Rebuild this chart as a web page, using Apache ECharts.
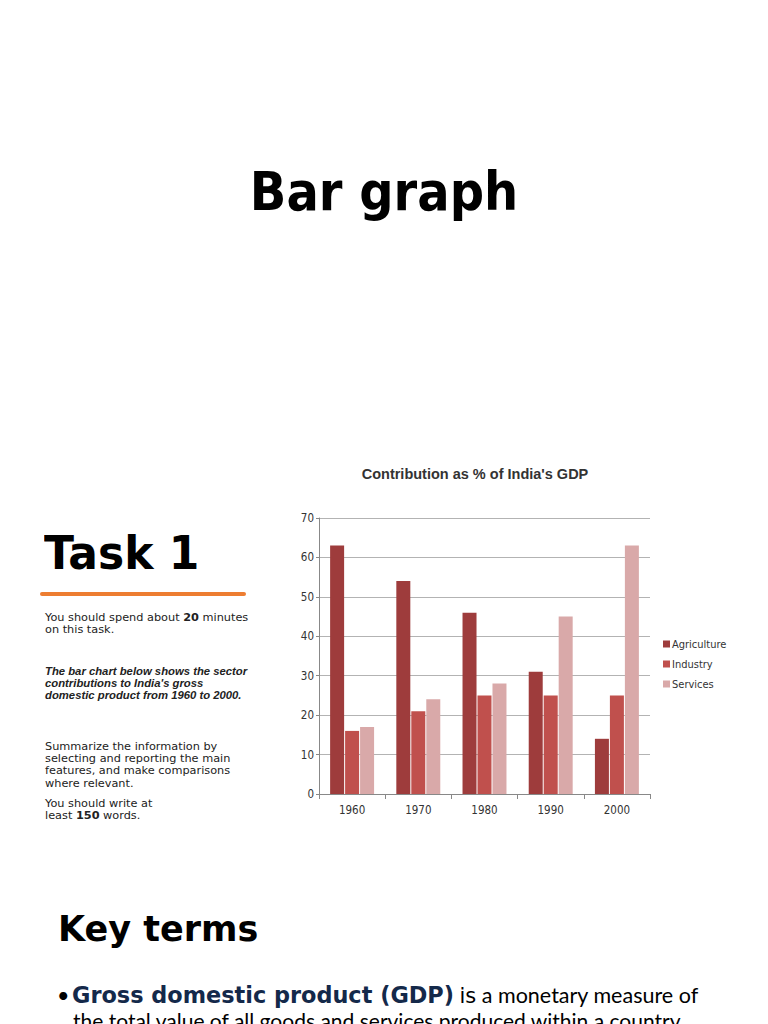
<!DOCTYPE html>
<html>
<head>
<meta charset="utf-8">
<script src="https://cdn.jsdelivr.net/npm/echarts@6/dist/echarts.min.js"></script>
<style>
  html, body { margin: 0; padding: 0; background: #ffffff; }
  #page { position: relative; width: 768px; height: 1024px; overflow: hidden; background: #fff; }
  .abs { position: absolute; white-space: nowrap; }
  #main-title { left: 0; width: 768px; top: 163px; text-align: center; font-family: "DejaVu Sans", sans-serif; font-weight: bold; font-size: 48px; color: #000; transform: scaleY(1.12); }
  #task { left: 44px; top: 526px; font-family: "DejaVu Sans", sans-serif; font-weight: bold; font-size: 44px; color: #000; transform-origin: left top; transform: scaleY(1.05); }
  #rule { left: 40px; top: 592px; width: 206px; height: 4px; background: #ed7d31; border-radius: 2px; }
  .small { left: 45px; font-family: "DejaVu Sans", sans-serif; font-size: 11.3px; line-height: 12.2px; color: #222; }
  .ital { left: 45px; font-family: "Liberation Sans", Arial, sans-serif; font-size: 11.3px; line-height: 12px; font-weight: bold; font-style: italic; color: #222; }
  #key { left: 58px; top: 909px; font-family: "DejaVu Sans", sans-serif; font-weight: bold; font-size: 35px; color: #000; }
  .bl { position: absolute; white-space: nowrap; font-family: Lato, sans-serif; font-size: 21.5px; color: #000; }
  .bl .b { color: #14294a; font-family: "DejaVu Sans", sans-serif; font-weight: bold; font-size: 22.4px; }
  .bl .is { font-family: "DejaVu Sans", sans-serif; font-size: 21px; }
  #chart { position: absolute; left: 290px; top: 455px; width: 450px; height: 380px; }
</style>
</head>
<body>
<div id="page">
  <div id="main-title" class="abs">Bar graph</div>
  <div id="task" class="abs">Task 1</div>
  <div id="rule" class="abs"></div>
  <div class="abs small" style="top:612px;">You should spend about <b>20</b> minutes<br>on this task.</div>
  <div class="abs ital" style="top:665px;">The bar chart below shows the sector<br>contributions to India's gross<br>domestic product from 1960 to 2000.</div>
  <div class="abs small" style="top:741px;">Summarize the information by<br>selecting and reporting the main<br>features, and make comparisons<br>where relevant.</div>
  <div class="abs small" style="top:798px;">You should write at<br>least <b>150</b> words.</div>
  <div id="key" class="abs">Key terms</div>
  <div class="bl" style="left:57px; top:982px;">•</div>
  <div class="bl" style="left:72px; top:982px;"><span class="b">Gross domestic product (GDP)</span> <span class="is">is</span> a monetary measure of</div>
  <div class="bl" style="left:73px; top:1008px; font-size:21px;">the total value of all goods and services produced within a country</div>
  <div id="chart"></div>
</div>
<script>
const chartTitle = "Contribution as % of India's GDP";
const categories = ['1960', '1970', '1980', '1990', '2000'];
const seriesNames = ['Agriculture', 'Industry', 'Services'];
const agriculture = [63, 54, 46, 31, 14];
const industry = [16, 21, 25, 25, 25];
const services = [17, 24, 28, 45, 63];
const yTicks = [0, 10, 20, 30, 40, 50, 60, 70];

const colors = ['#9e3c3c', '#c0504d', '#d9a9a9'];
const values = [agriculture, industry, services];
const labelFont = '"DejaVu Sans Condensed", "DejaVu Sans", sans-serif';

const chart = echarts.init(document.getElementById('chart'), null, { renderer: 'svg' });
chart.setOption({
  animation: false,
  backgroundColor: 'transparent',
  title: {
    text: chartTitle,
    left: 180, top: 6, textAlign: 'center',
    textStyle: { fontFamily: '"Liberation Sans", Arial, sans-serif', fontSize: 14.5, fontWeight: 'bold', color: '#333' }
  },
  legend: {
    orient: 'vertical',
    left: 373, top: 182,
    padding: 0,
    itemWidth: 7, itemHeight: 7, itemGap: 6,
    icon: 'rect',
    textStyle: { fontFamily: labelFont, fontSize: 11, color: '#333', lineHeight: 14, padding: [0, 0, 0, -3] },
    data: seriesNames
  },
  grid: { left: 29, top: 63, width: 331, height: 276, containLabel: false },
  xAxis: {
    type: 'category',
    data: categories,
    axisLine: { lineStyle: { color: '#888', width: 1 } },
    axisTick: { show: true, length: 5, lineStyle: { color: '#888' } },
    axisLabel: { fontFamily: labelFont, fontSize: 11.5, color: '#333', margin: 10 }
  },
  yAxis: {
    type: 'value',
    min: yTicks[0], max: yTicks[yTicks.length - 1], interval: 10,
    axisLine: { show: true, lineStyle: { color: '#888', width: 1 } },
    axisTick: { show: true, length: 3, lineStyle: { color: '#888' } },
    axisLabel: { fontFamily: labelFont, fontSize: 11.5, color: '#333', margin: 5 },
    splitLine: { lineStyle: { color: '#b3b3b3', width: 1 } }
  },
  series: seriesNames.map((name, i) => ({
    name: name,
    type: 'bar',
    data: values[i],
    barWidth: 14,
    barGap: '7%',
    itemStyle: { color: colors[i] }
  }))
});
</script>
</body>
</html>
